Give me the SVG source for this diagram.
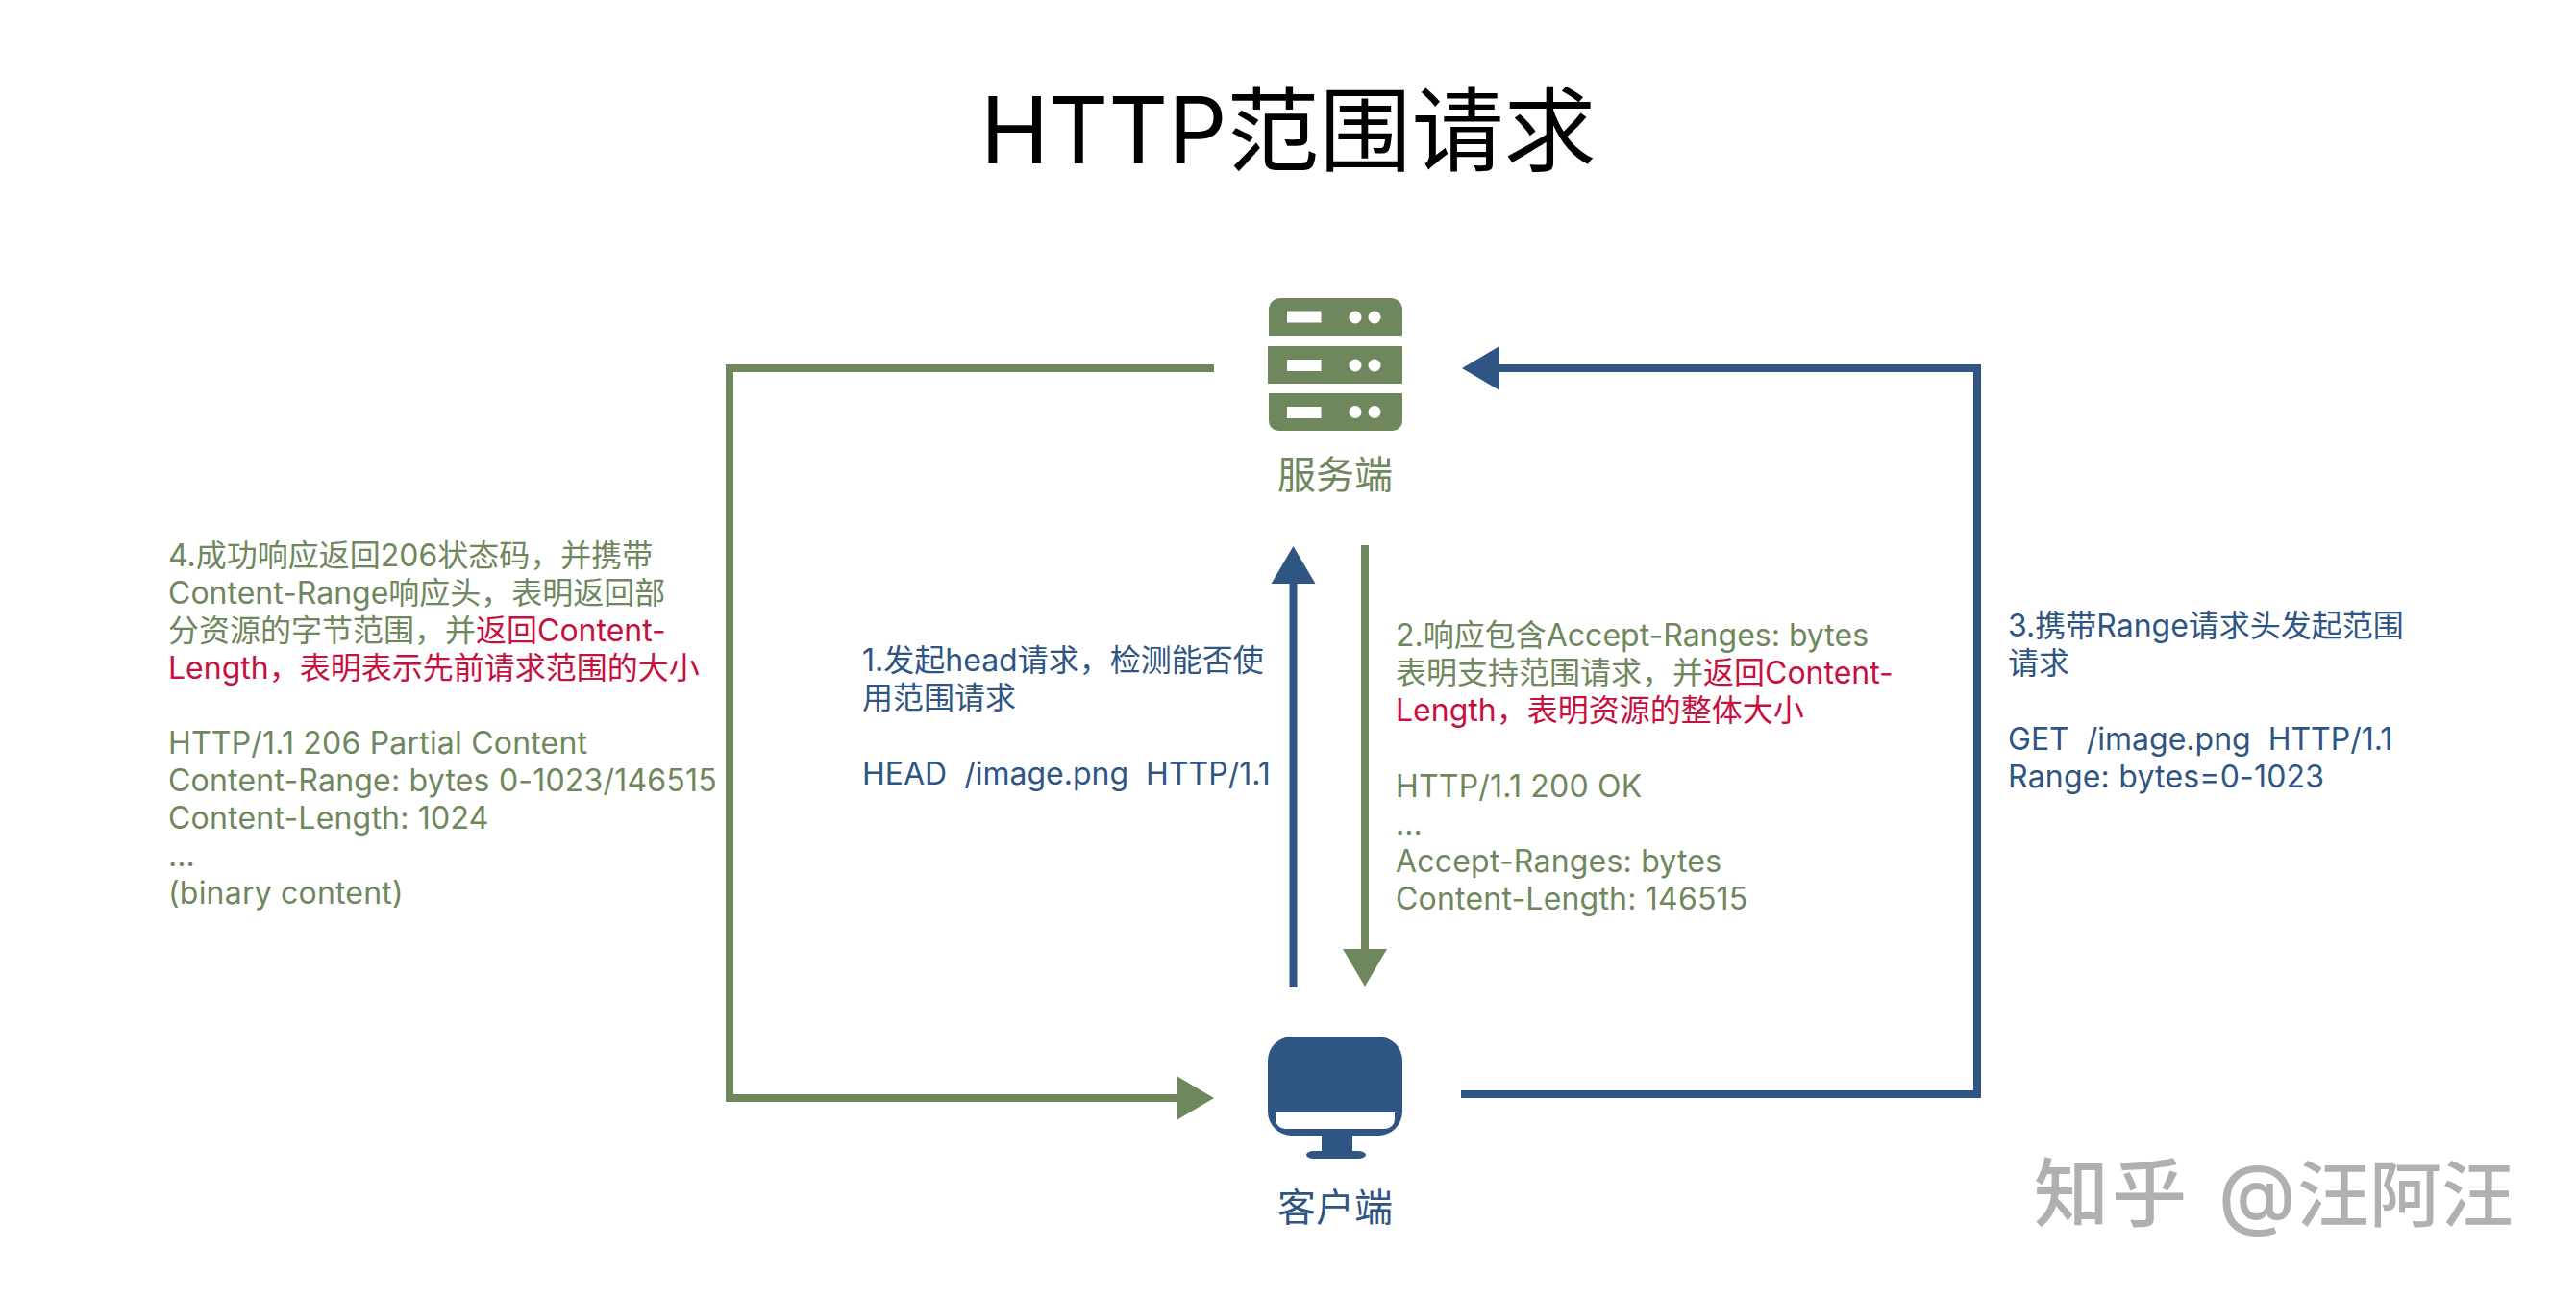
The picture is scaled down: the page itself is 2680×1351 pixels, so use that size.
<svg xmlns="http://www.w3.org/2000/svg" width="2680" height="1351" viewBox="0 0 2680 1351">
<style>
text{font-family:"Inter","Noto Sans CJK SC","Noto Sans",sans-serif;font-size:32px;white-space:pre}
.g{fill:#6f875c}.b{fill:#2f5583}.r{fill:#c8103f}.w{fill:#fff}
.ln{fill:none;stroke-width:8}
.gs{stroke:#6f875c}.bs{stroke:#2f5583}
.lat{letter-spacing:.2px}
</style>
<defs>
<marker id="ag" markerUnits="userSpaceOnUse" markerWidth="40" markerHeight="46" refX="0" refY="23" orient="auto"><path d="M0 0L39 23L0 46Z" fill="#6f875c"/></marker>
<marker id="ab" markerUnits="userSpaceOnUse" markerWidth="40" markerHeight="46" refX="0" refY="23" orient="auto"><path d="M0 0L39 23L0 46Z" fill="#2f5583"/></marker>
</defs>
<rect width="2680" height="1351" fill="#fff"/>
<g id="title"><text x="1020" y="170" style="font-size:96px" fill="#000">HTTP范围请求</text></g>
<g id="connectors">
<path class="ln gs" d="M1263 383H759V1142H1224" marker-end="url(#ag)"/>
<path class="ln bs" d="M1520 1138H2057V383H1560" marker-end="url(#ab)"/>
<path class="ln bs" d="M1345.500 1027V607" marker-end="url(#ab)"/>
<path class="ln gs" d="M1420 567V987" marker-end="url(#ag)"/>
</g>
<g id="server">
<path class="g" d="M1320 349V322a12 12 0 0 1 12-12h115a12 12 0 0 1 12 12v27zM1319 360h140v39h-140zM1320 409h139v29a10 10 0 0 1-10 10h-119a10 10 0 0 1-10-10z"/>
<g class="w"><rect x="1339" y="323.500" width="35.500" height="12"/><rect x="1339" y="374" width="35.500" height="12"/><rect x="1339" y="423" width="35.500" height="12"/>
<circle cx="1410" cy="330" r="6.500"/><circle cx="1430" cy="330" r="6.500"/><circle cx="1410" cy="380" r="6.500"/><circle cx="1430" cy="380" r="6.500"/><circle cx="1410" cy="428.500" r="6.500"/><circle cx="1430" cy="428.500" r="6.500"/></g>
<text class="g" x="1389" y="508" text-anchor="middle" style="font-size:40px">服务端</text>
</g>
<g id="client">
<path class="b" fill-rule="evenodd" d="M1344 1078h90a25 25 0 0 1 25 25v53a25 25 0 0 1-25 25h-27v16h6a8 4 0 0 1 0 8h-46a8 4 0 0 1 0-8h8v-16h-31a25 25 0 0 1-25-25v-53a25 25 0 0 1 25-25zM1327 1157v7a10 10 0 0 0 10 10h104a10 10 0 0 0 10-10v-7z"/>
<text class="b" x="1389" y="1270" text-anchor="middle" style="font-size:40px">客户端</text>
</g>
<g id="label4" class="g">
<text x="175" y="589">4.成功响应返回206状态码，并携带</text>
<text x="175" y="628">Content-Range响应头，表明返回部</text>
<text x="175" y="667">分资源的字节范围，并<tspan class="r">返回Content-</tspan></text>
<text x="175" y="706" class="r">Length，表明表示先前请求范围的大小</text>
<text x="175" y="784" class="lat">HTTP/1.1 206 Partial Content</text>
<text x="175" y="823" class="lat">Content-Range: bytes 0-1023/146515</text>
<text x="175" y="862" class="lat">Content-Length: 1024</text>
<text x="175" y="901">...</text>
<text x="175" y="940" class="lat">(binary content)</text>
</g>
<g id="label1" class="b">
<text x="897" y="698">1.发起head请求，检测能否使</text>
<text x="897" y="737">用范围请求</text>
<text x="897" y="816">HEAD  /image.png  HTTP/1.1</text>
</g>
<g id="label2" class="g">
<text x="1452" y="672">2.响应包含Accept-Ranges: bytes</text>
<text x="1452" y="711">表明支持范围请求，并<tspan class="r">返回Content-</tspan></text>
<text x="1452" y="750" class="r">Length，表明资源的整体大小</text>
<text x="1452" y="829" class="lat">HTTP/1.1 200 OK</text>
<text x="1452" y="868">...</text>
<text x="1452" y="907" class="lat">Accept-Ranges: bytes</text>
<text x="1452" y="946" class="lat">Content-Length: 146515</text>
</g>
<g id="label3" class="b">
<text x="2089" y="662">3.携带Range请求头发起范围</text>
<text x="2089" y="701">请求</text>
<text x="2089" y="780">GET  /image.png  HTTP/1.1</text>
<text x="2089" y="819" class="lat">Range: bytes=0-1023</text>
</g>
<g id="watermark"><text y="1270" style="font-size:75px;font-weight:500" fill="#b0b0b0"><tspan x="2116" style="font-size:78px;letter-spacing:3px">知乎 </tspan><tspan x="2308" style="font-size:82px">@</tspan><tspan x="2390">汪阿汪</tspan></text></g>
</svg>
